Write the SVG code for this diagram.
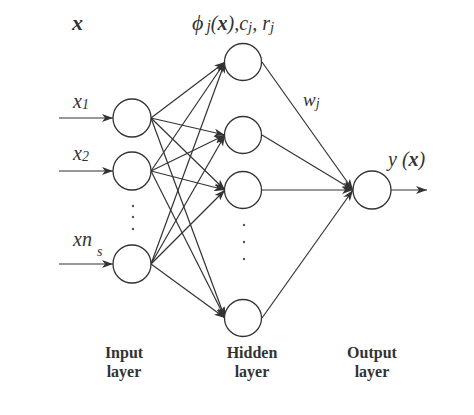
<svg xmlns="http://www.w3.org/2000/svg" width="474" height="415" viewBox="0 0 474 415">
<style>
.n{fill:#fff;stroke:#333;stroke-width:1.3}
.e{stroke:#333;stroke-width:1.2;fill:none;marker-end:url(#ah)}
.t{font-family:"Times New Roman","Liberation Serif","DejaVu Serif",serif;font-style:italic;fill:#333}
.b{font-family:"Liberation Serif","Times New Roman",serif;font-weight:bold;fill:#333;font-size:16px;text-anchor:middle}
.d{fill:#555}
</style>
<defs>
<marker id="ah" markerUnits="userSpaceOnUse" markerWidth="12" markerHeight="8" refX="11" refY="4" orient="auto">
<path d="M0,0 L11,4 L0,8 L3,4 Z" fill="#333"/>
</marker>
</defs>
<rect width="474" height="415" fill="#fff"/>
<g id="connectors">
<line class="e" x1="59" y1="118" x2="113" y2="118"/>
<line class="e" x1="59" y1="171" x2="113" y2="171"/>
<line class="e" x1="59" y1="264" x2="113" y2="264"/>
<line class="e" x1="151" y1="118" x2="225" y2="62"/>
<line class="e" x1="151" y1="118" x2="225" y2="135"/>
<line class="e" x1="151" y1="118" x2="225" y2="190"/>
<line class="e" x1="151" y1="118" x2="225" y2="318"/>
<line class="e" x1="151" y1="171" x2="225" y2="62"/>
<line class="e" x1="151" y1="171" x2="225" y2="135"/>
<line class="e" x1="151" y1="171" x2="225" y2="190"/>
<line class="e" x1="151" y1="171" x2="225" y2="318"/>
<line class="e" x1="151" y1="264" x2="225" y2="62"/>
<line class="e" x1="151" y1="264" x2="225" y2="135"/>
<line class="e" x1="151" y1="264" x2="225" y2="190"/>
<line class="e" x1="151" y1="264" x2="225" y2="318"/>
<line class="e" x1="262" y1="62" x2="353" y2="190"/>
<line class="e" x1="262" y1="135" x2="353" y2="190"/>
<line class="e" x1="262" y1="190" x2="353" y2="190"/>
<line class="e" x1="262" y1="318" x2="353" y2="190"/>
<line class="e" x1="391" y1="190" x2="427" y2="190"/>
</g>
<g id="in1"><circle class="n" cx="132" cy="118" r="19"/></g>
<g id="in2"><circle class="n" cx="132" cy="171" r="19"/></g>
<g id="in3"><circle class="n" cx="132" cy="264" r="19"/></g>
<g id="h1"><circle class="n" cx="243" cy="62" r="18.5"/></g>
<g id="h2"><circle class="n" cx="243" cy="135" r="18.5"/></g>
<g id="h3"><circle class="n" cx="243" cy="190" r="18.5"/></g>
<g id="h4"><circle class="n" cx="243" cy="318" r="18.5"/></g>
<g id="out"><circle class="n" cx="372" cy="190" r="19"/></g>
<g id="dots">
<circle class="d" cx="133" cy="206" r="1.2"/>
<circle class="d" cx="133" cy="217" r="1.2"/>
<circle class="d" cx="133" cy="229" r="1.2"/>
<circle class="d" cx="244" cy="225" r="1.2"/>
<circle class="d" cx="244" cy="242" r="1.2"/>
<circle class="d" cx="244" cy="259" r="1.2"/>
</g>
<g id="labels">
<text class="t" x="72" y="30" font-size="22" font-weight="bold">x</text>
<text class="t" x="192" y="30" font-size="22">ϕ<tspan font-size="16" dx="3" dy="1">j</tspan><tspan font-size="20" dy="-1">(<tspan font-weight="bold">x</tspan>),c</tspan><tspan font-size="15" dy="2">j</tspan><tspan font-size="20" dy="-2">, r</tspan><tspan font-size="15" dy="2">j</tspan></text>
<text class="t" x="73" y="108" font-size="20">x<tspan font-size="14" dy="1">1</tspan></text>
<text class="t" x="73" y="160" font-size="20">x<tspan font-size="14" dy="1">2</tspan></text>
<text class="t" x="73" y="246" font-size="20">xn<tspan font-size="14" dx="5" dy="10">s</tspan></text>
<text class="t" x="303" y="106" font-size="19">w<tspan font-size="14" dy="2">j</tspan></text>
<text class="t" x="388" y="166" font-size="20">y <tspan>(</tspan><tspan font-weight="bold">x</tspan>)</text>
<text class="b" x="124" y="358">Input</text>
<text class="b" x="124" y="377">layer</text>
<text class="b" x="252" y="358">Hidden</text>
<text class="b" x="252" y="377">layer</text>
<text class="b" x="372" y="358">Output</text>
<text class="b" x="372" y="377">layer</text>
</g>
</svg>
